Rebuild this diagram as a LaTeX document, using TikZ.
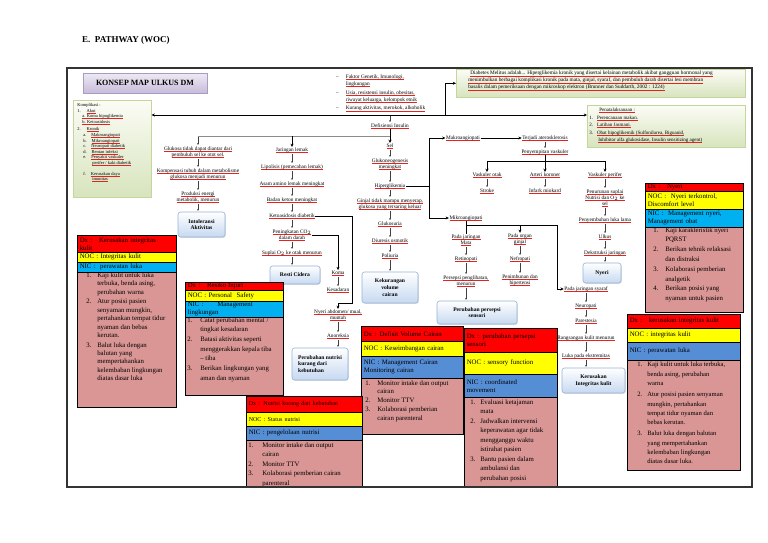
\documentclass[tikz,border=0pt]{standalone}
\usepackage{fontspec}
\setmainfont{Liberation Serif}
\usetikzlibrary{arrows.meta,shadows}
\definecolor{dxred}{HTML}{FF0000}
\definecolor{dxyel}{HTML}{FFFF00}
\definecolor{dxcyan}{HTML}{00B0F0}
\definecolor{dxblue}{HTML}{558ED5}
\definecolor{dxpink}{HTML}{D99694}
\definecolor{bxbot}{HTML}{C6D9F1}
\definecolor{bxline}{HTML}{95B3D7}
\definecolor{grtop}{HTML}{FBFCF5}
\definecolor{grbot}{HTML}{D7E4BD}
\definecolor{grline}{HTML}{C3D69B}
\definecolor{lvtop}{HTML}{EEEAF3}
\definecolor{lvbot}{HTML}{C8BCDB}
\definecolor{lvline}{HTML}{A99CC4}
\definecolor{sqred}{HTML}{E8201E}
\definecolor{frm}{HTML}{333333}
\newlength\rwl
\newcommand\rw[1]{\settowidth\rwl{#1}\leavevmode\rlap{\textcolor{sqred}{\rule[-1pt]{\rwl}{0.45pt}}}#1}
\newcommand\flf{\fontsize{5.3}{6.2}\selectfont}
\newcommand\dxf{\fontsize{6.8}{8}\selectfont}
\newcommand\bxf{\fontsize{5.6}{6.6}\selectfont\bfseries}
\newlength\phang
\newlength\pgap
\newcommand\pitem[2]{\par\noindent\hangindent=\phang\hangafter=1\makebox[\phang][l]{#1.}#2\par\vspace{\pgap}}
\newcommand\band[8]{\node[band,fill=#2,minimum width=#5pt,text width=#8pt,minimum height=#6pt] (#1) at (#3,#4) {#7};}
\newcommand\pband[6]{\node[pb] (#1) at (#2,#3) {\parbox[t][#5pt][t]{#4pt}{\raggedright #6}};}
\begin{document}
\begin{tikzpicture}[x=1pt,y=-1pt,
  fl/.style={font=\flf, inner sep=0.5pt, align=center},
  bx/.style={draw=bxline, line width=0.6pt, rounded corners=2.5pt, top color=white, bottom color=bxbot,
    font=\bxf, align=center, inner sep=1pt, drop shadow={opacity=0.25,shadow xshift=0.8pt,shadow yshift=-0.8pt}},
  grbox/.style={draw=grline, line width=0.6pt, top color=grtop, bottom color=grbot, anchor=north west, inner sep=0pt,
    drop shadow={opacity=0.2,shadow xshift=1pt,shadow yshift=-1pt}},
  band/.style={draw=black, line width=0.6pt, anchor=north west, inner xsep=2.5pt, inner ysep=0.5pt, align=left, font=\dxf},
  pb/.style={draw=black, line width=0.6pt, anchor=north west, inner sep=0pt, fill=dxpink, font=\dxf},
  thk/.style={line width=0.9pt, black},
  arr/.style={-{Stealth[length=3.2pt,width=3pt]}},
  sm/.style={line width=0.4pt, draw=black!75, -{Stealth[length=2pt,width=1.8pt]}, shorten <=0.8pt, shorten >=0.8pt},
  gry/.style={line width=1pt, draw=black!45}]
\useasboundingbox (0,0) rectangle (768,543);
\fill[white] (0,0) rectangle (768,543);

% title and header
\node[font=\fontsize{9}{10}\selectfont\bfseries, anchor=west, inner sep=0pt] (title) at (82,40) {E.\ \ PATHWAY (WOC)};
\node[draw=lvline, line width=0.6pt, top color=lvtop, bottom color=lvbot, minimum width=124pt, minimum height=20pt,
  font=\fontsize{8}{9}\selectfont\bfseries, drop shadow={opacity=0.3,shadow xshift=1.2pt,shadow yshift=-1.2pt}] (konsep) at (145,83) {KONSEP MAP ULKUS DM};

% Komplikasi (left)
\node[grbox] (kompL) at (73,100) {\parbox[t][97pt][t]{78pt}{\fontsize{4.5}{5.6}\selectfont\raggedright\vspace*{3pt}
\hspace*{4pt}Komplikasi :\\
\hspace*{4pt}1.\hspace{6pt}\rw{Akut}\\
\hspace*{9pt}\rw{a. Koma hipoglikemia}\\
\hspace*{9pt}\rw{b. Ketoasidosis}\\[2pt]
\hspace*{4pt}2.\hspace{6pt}\rw{Kronik}\\
\hspace*{10pt}a.\hspace{5pt}\rw{Makroangiopati}\\
\hspace*{10pt}b.\hspace{5pt}\rw{Mikroangiopati}\\
\hspace*{10pt}c.\hspace{5pt}\rw{Neuropati diabetik}\\
\hspace*{10pt}d.\hspace{5pt}\rw{Rentan infeksi}\\
\hspace*{10pt}e.\hspace{5pt}\rw{Penyakit vaskuler}\\
\hspace*{19pt}\rw{perifer / kaki diabetik}\\[5pt]
\hspace*{10pt}f.\hspace{5pt}\rw{Kerusakan daya}\\
\hspace*{19pt}\rw{imunitas}}};

% Faktor list
\node[anchor=north west, inner sep=0pt, font=\fontsize{5.3}{7.4}\selectfont] (faktor) at (336,73) {\begin{tabular}{@{}l@{\hspace{7pt}}l@{}}
-- & \rw{Faktor Genetik, Imunologi,}\\
 & \rw{lingkungan}\\[1pt]
-- & \rw{Usia, resistensi insulin, obesitas,}\\
 & \rw{riwayat keluarga, kelompok etnik}\\[1pt]
-- & \rw{Kurang aktivitas, merokok, alkoholik}
\end{tabular}};

% Diabetes definition
\node[grbox] (diab) at (456,69) {\parbox[t][28pt][t]{289pt}{\fontsize{5.3}{7}\selectfont\raggedright\vspace*{2pt}
\hspace*{14pt}\rw{Diabetes Melitus adalah... Hiperglikemia kronik yang disertai kelainan metabolik akibat gangguan hormonal yang}\\
\hspace*{12pt}\rw{menimbulkan berbagai komplikasi kronik pada mata, ginjal, syaraf, dan pembuluh darah disertai lesi membran}\\
\hspace*{12pt}\rw{basalis dalam pemeriksaan dengan mikroskop elektron (Brunner dan Suddarth, 2002 : 1224)}}};

% Penatalaksanaan (right)
\node[grbox] (kompR) at (587,105) {\parbox[t][42pt][t]{158pt}{\fontsize{5}{7.5}\selectfont\raggedright\vspace*{3pt}
\hspace*{12pt}\rw{Penatalaksanaan :}\\
\hspace*{2pt}1.\hspace{4pt}\rw{Perencanaan makan.}\\
\hspace*{2pt}2.\hspace{4pt}\rw{Latihan Jasmani.}\\
\hspace*{2pt}3.\hspace{4pt}\rw{Obat hipoglikemik (Sulfonilurea, Biguanid,}\\
\hspace*{11pt}\rw{Inhibitor alfa glukosidase, Insulin sensitizing agent)}}};

% column 1
\node[fl] (defi) at (390,126) {\rw{Defisiensi Insulin}};
\node[fl] (g1) at (198,152) {\rw{Glukosa tidak dapat diantar dari}\\\rw{pembuluh sel ke otot sel.}};
\node[fl] (g2) at (198,174) {\rw{Kompensasi tubuh dalam metabolisme}\\\rw{glukosa menjadi menurun}};
\node[fl] (g3) at (198,197) {\rw{Produksi energi}\\\rw{metabolik, menurun}};
\node[bx, minimum width=47pt, minimum height=25pt] (intol) at (201.5,224.5) {Intoleransi\\Aktivitas};

% column 2
\node[fl] (j1) at (292,150) {\rw{Jaringan lemak}};
\node[fl] (j2) at (292,167) {\rw{Lipolisis (pemecahan lemak)}};
\node[fl] (j3) at (292,184) {\rw{Asam amino lemak meningkat}};
\node[fl] (j4) at (292,200) {\rw{Badan keton meningkat}};
\node[fl] (j5) at (292,216) {\rw{Ketoasidosis diabetik}};
\node[fl] (j6) at (292,235) {\rw{Peningkatan CO$_2$}\\\rw{dalam darah}};
\node[fl] (j7) at (292,253) {\rw{Suplai O$_2$ ke otak menurun}};
\node[bx, minimum width=50pt, minimum height=18pt] (resti) at (295,275) {Resti Cidera};
\node[fl] (koma) at (338,273) {\rw{Koma}};
\node[fl] (kesad) at (338,290) {\rw{Kesadaran}};
\node[fl] (n1) at (338,315) {\rw{Nyeri abdomen/ mual,}\\\rw{muntah}};
\node[fl] (n2) at (338,336) {\rw{Anoreksia}};
\node[bx, minimum width=56pt, minimum height=32pt, align=left] (nutr) at (320,364) {Perubahan nutrisi\\kurang dari\\kebutuhan};

% column 3
\node[fl] (sel) at (390,146) {\rw{Sel}};
\node[fl] (s1) at (390,164) {\rw{Glukoneogenesis}\\\rw{meningkat}};
\node[fl] (s2) at (390,186) {\rw{Hiperglikemia}};
\node[fl] (s3) at (390,204) {\rw{Ginjal tidak mampu menyerap,}\\\rw{glukosa yang tersaring keluar}};
\node[fl] (s4) at (390,224) {\rw{Glukosuria}};
\node[fl] (s5) at (390,241) {\rw{Diuresis osmotik}};
\node[fl] (s6) at (390,256) {\rw{Poliuria}};
\node[bx, minimum width=56pt, minimum height=31pt] (kvc) at (390,287.5) {Kekurangan\\volume\\cairan};

% makroangiopati branch
\node[fl] (makro) at (463,138) {\rw{Makroangiopati}};
\node[fl] (ater) at (545,138) {\rw{Terjadi aterosklerosis}};
\node[fl] (peny) at (545,152) {\rw{Penyempitan vaskuler}};
\node[fl] (v1) at (487,175) {\rw{Vaskuler otak}};
\node[fl] (v1b) at (487,191) {\rw{Stroke}};
\node[fl] (v2) at (545,175) {\rw{Arteri koroner}};
\node[fl] (v2b) at (545,191) {\rw{Infark miokard}};
\node[fl] (v3) at (605,175) {\rw{Vaskuler perifer}};
\node[fl] (v3b) at (605,198) {\rw{Penurunan suplai}\\\rw{Nutrisi dan O$_2$ ke}\\\rw{sel}};
\node[fl] (v3c) at (605,220) {\rw{Penyembuhan luka lama}};
\node[fl] (v3d) at (605,237) {\rw{Ulkus}};
\node[fl] (v3e) at (605,253) {\rw{Dekstruksi jaringan}};
\node[bx, minimum width=38pt, minimum height=20pt] (nyeri) at (602,273) {Nyeri};

% mikroangiopati branch
\node[fl] (mikro) at (466,218) {\rw{Mikroangiopati}};
\node[fl] (m1) at (466,240) {\rw{Pada jaringan}\\\rw{Mata}};
\node[fl] (m1b) at (466,259) {\rw{Retinopati}};
\node[fl] (m1c) at (466,281) {\rw{Persepsi penglihatan,}\\\rw{menurun}};
\node[bx, minimum width=80pt, minimum height=23pt] (pps) at (477,312.5) {Perubahan persepsi\\sensori};
\node[fl] (m2) at (520,239) {\rw{Pada organ}\\\rw{ginjal}};
\node[fl] (m2b) at (520,259) {\rw{Nefropati}};
\node[fl] (m2c) at (520,280) {\rw{Penimbunan dan}\\\rw{hipertensi}};
\node[fl] (m3) at (586,289) {\rw{Pada jaringan syaraf}};
\node[fl] (m3b) at (586,306) {\rw{Neuropati}};
\node[fl] (m3c) at (586,321) {\rw{Parestesia}};
\node[fl] (m3d) at (586,338) {\rw{Rangsangan kulit menurun}};
\node[fl] (m3e) at (586,356) {\rw{Luka pada ekstremitas}};
\node[bx, minimum width=63pt, minimum height=25pt] (kik) at (593.5,380.5) {Kerusakan\\Integritas kulit};

% connectors
\coordinate (topj) at (445,115);
\draw[thk,{Stealth[length=3.2pt,width=3pt]}-{Stealth[length=3.2pt,width=3pt]}] (kompL.east |- topj) -- (kompR.west |- topj);
\draw[thk,arr] (topj) |- (diab.west);
\draw[sm] (defi.north |- topj) -- (defi.north);
\coordinate (tl) at (198,136);
\coordinate (tr) at (390,136);
\draw[gry] (tl) -- (tr);
\draw[thk] (defi.south) -- (tr);
\draw[sm] (tl) -- (g1.north);
\draw[thk,arr] (tl -| j1.north) -- (j1.north);
\draw[thk,arr] (tr) -- (sel.north);
\foreach \a/\b in {g1/g2,g2/g3,g3/intol,j1/j2,j2/j3,j3/j4,j4/j5,j5/j6,j6/j7,j7/resti,koma/kesad,n1/n2,n2/nutr,
  sel/s1,s1/s2,s2/s3,s3/s4,s4/s5,s5/s6,s6/kvc,ater/peny,v1/v1b,v2/v2b,v3/v3b,v3b/v3c,v3c/v3d,v3d/v3e,v3e/nyeri,
  m1/m1b,m1b/m1c,m1c/pps,m2/m2b,m2b/m2c,m3/m3b,m3b/m3c,m3c/m3d,m3d/m3e,m3e/kik}
  \draw[sm] (\a.south) -- (\a.south |- \b.north);
\coordinate (kc) at (352,303);
\draw[thk,arr] (j5.east) -| (kc) -| (n1.north);
\draw[thk,arr] (j6.east) -| (koma.north);
\coordinate (hv) at (429,186);
\draw[thk] (s2.east) -- (hv);
\draw[thk,arr] (hv) |- (makro.west);
\draw[thk,arr] (hv) |- (mikro.west);
\draw[thk,arr] (makro.east) -- (ater.west);
\coordinate (br) at (545,161);
\draw[thk] (peny.south) -- (br);
\draw[thk] (br -| v1.north) -- (br -| v3.north);
\draw[thk,arr] (br -| v1.north) -- (v1.north);
\draw[thk,arr] (br) -- (v2.north);
\draw[thk,arr] (br -| v3.north) -- (v3.north);
\coordinate (mj) at (466,225);
\coordinate (mr) at (557,225);
\draw[thk] (mikro.south) -- (mj) -- (mr);
\draw[thk] (mj) -- (m1.north);
\draw[thk,arr] (mj -| m2.north) -- (m2.north);
\draw[thk,arr] (mr) |- (m3.west);

% Dx boxes
\band{k1r}{dxred}{77}{235}{99}{17}{Dx :\quad Kerusakan integritas\\kulit}{94}
\band{k1y}{dxyel}{77}{252}{99}{10}{NOC : Integritas kulit}{94}
\band{k1b}{dxcyan}{77}{262}{99}{10}{NIC :\ \ perawatan luka}{94}
\pband{k1p}{77}{272}{99}{135}{\fontsize{6.8}{8.4}\selectfont\leftskip=9pt\setlength\phang{11pt}\setlength\pgap{1.2pt}\vspace*{0.5pt}
\pitem{1}{Kaji kulit untuk luka\newline terbuka, benda asing,\newline perubahan warna}
\pitem{2}{Atur posisi pasien\newline senyaman mungkin,\newline pertahankan tempat tidur\newline nyaman dan bebas\newline kerutan.}
\pitem{3}{Balut luka dengan\newline balutan yang\newline mempertahankan\newline kelembaban lingkungan\newline diatas dasar luka}}

\band{r1r}{dxred}{185}{282}{98}{8}{Dx :\quad Resiko Injuri}{93}
\band{r1y}{dxyel}{185}{290}{98}{11}{NOC :\ Personal\ \ Safety}{93}
\band{r1b}{dxcyan}{185}{301}{98}{16}{NIC :\qquad Management\\lingkungan}{93}
\pband{r1p}{185}{317}{98}{78}{\fontsize{6.8}{9.7}\selectfont\leftskip=2pt\setlength\phang{13pt}\setlength\pgap{0pt}
\pitem{1}{Catat perubahan mental /\newline tingkat kesadaran}
\pitem{2}{Batasi aktivitas seperti\newline menggerakkan kepala tiba\newline -- tiba}
\pitem{3}{Berikan lingkungan yang\newline aman dan nyaman}}

\band{dvr}{dxred}{361}{326}{102}{15}{Dx : Defisit Volume Cairan}{97}
\band{dvy}{dxyel}{361}{341}{102}{15}{NOC : Keseimbangan cairan}{97}
\band{dvb}{dxblue}{361}{356}{102}{22}{NIC : Management Cairan\\Monitoring cairan}{97}
\pband{dvp}{361}{378}{102}{56}{\fontsize{6.8}{8.8}\selectfont\leftskip=4pt\setlength\phang{12pt}\setlength\pgap{0pt}\vspace*{2pt}
\pitem{1}{Monitor intake dan output\newline cairan}
\pitem{2}{Monitor TTV}
\pitem{3}{Kolaborasi pemberian\newline cairan parenteral}}

\band{ntr}{dxred}{246}{396}{116}{16}{\fontsize{6}{7}\selectfont Dx : Nutrisi kurang dari kebutuhan}{111}
\band{nty}{dxyel}{246}{412}{116}{14}{\fontsize{6}{7}\selectfont NOC : Status nutrisi}{111}
\band{ntb}{dxblue}{246}{426}{116}{14}{NIC : pengelolaan nutrisi}{111}

\band{ppr}{dxred}{464}{328}{93}{24}{Dx : perubahan persepsi\\sensori}{88}
\band{ppy}{dxyel}{464}{352}{93}{22}{NOC : sensory function}{88}
\band{ppb}{dxblue}{464}{374}{93}{23}{NIC : coordinated\\movement}{88}

\begin{scope}
\clip (0,0) rectangle (768,487);
\pband{ntp}{246}{440}{116}{60}{\fontsize{6.8}{9.5}\selectfont\leftskip=2pt\setlength\phang{14pt}\setlength\pgap{0pt}\vspace*{2pt}
\pitem{1}{Monitor intake dan output\newline cairan}
\pitem{2}{Monitor TTV}
\pitem{3}{Kolaborasi pemberian cairan\newline parenteral}}
\pband{ppp}{464}{397}{93}{100}{\fontsize{6.8}{9.5}\selectfont\leftskip=6pt\setlength\phang{10pt}\setlength\pgap{0pt}\vspace*{2pt}
\pitem{1}{Evaluasi ketajaman\newline mata}
\pitem{2}{Jadwalkan intervensi\newline keperawatan agar tidak\newline mengganggu waktu\newline istirahat pasien}
\pitem{3}{Bantu pasien dalam\newline ambulansi dan\newline perubahan posisi}}
\end{scope}

\band{nyr}{dxred}{645}{183}{98}{8}{Dx :\quad Nyeri}{93}
\band{nyy}{dxyel}{645}{191}{98}{18}{NOC :\ \ Nyeri terkontrol,\\Discomfort level}{93}
\band{nyb}{dxcyan}{645}{209}{98}{18}{NIC :\ \ Management nyeri,\\Management obat}{93}
\pband{nyp}{645}{227}{98}{85}{\fontsize{6.8}{9.8}\selectfont\leftskip=8pt\setlength\phang{12pt}\setlength\pgap{0pt}
\pitem{1}{Kaji karakteristik nyeri\newline PQRST}
\pitem{2}{Berikan tehnik relaksasi\newline dan distraksi}
\pitem{3}{Kolaborasi pemberian\newline analgetik}
\pitem{4}{Berikan posisi yang\newline nyaman untuk pasien}}

\band{k2r}{dxred}{627}{314}{113}{14}{Dx :\quad kerusakan integritas kulit}{108}
\band{k2y}{dxyel}{627}{328}{113}{14}{NOC : integritas kulit}{108}
\band{k2b}{dxblue}{627}{342}{113}{18}{NIC : perawatan luka}{108}
\pband{k2p}{627}{360}{113}{110}{\fontsize{6.6}{9.3}\selectfont\leftskip=10pt\setlength\phang{10pt}\setlength\pgap{2pt}\vspace*{2pt}
\pitem{1}{Kaji kulit untuk luka terbuka,\newline benda asing, perubahan\newline warna}
\pitem{2}{Atur posisi pasien senyaman\newline mungkin, pertahankan\newline tempat tidur nyaman dan\newline bebas kerutan.}
\pitem{3}{Balut luka dengan balutan\newline yang mempertahankan\newline kelembaban lingkungan\newline diatas dasar luka.}}

% frame
\draw[frm, line width=1.2pt] (67,68) rectangle (752,487);
\end{tikzpicture}
\end{document}
